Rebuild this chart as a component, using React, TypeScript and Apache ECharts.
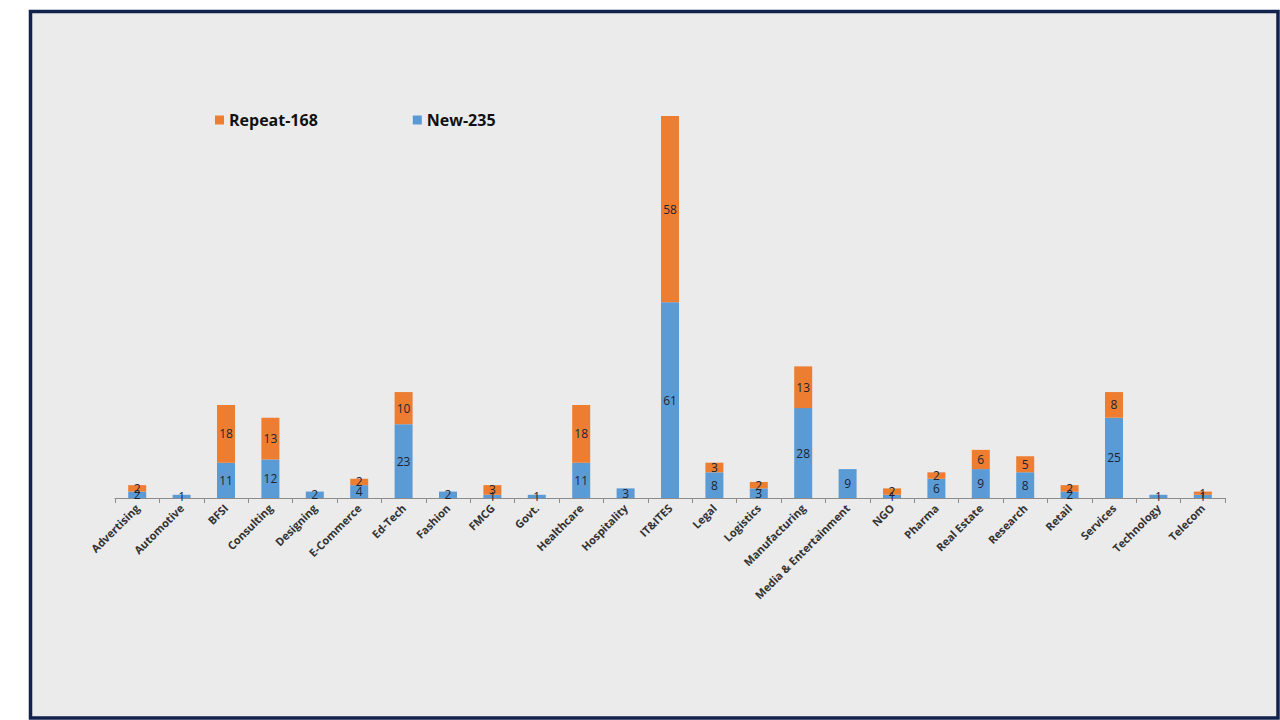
import React, { useEffect, useRef } from "react";
import * as echarts from "echarts";

const categories = [
  "Advertising", "Automotive", "BFSI", "Consulting", "Designing", "E-Commerce",
  "Ed-Tech", "Fashion", "FMCG", "Govt.", "Healthcare", "Hospitality", "IT&ITES",
  "Legal", "Logistics", "Manufacturing", "Media & Entertainment", "NGO", "Pharma",
  "Real Estate", "Research", "Retail", "Services", "Technology", "Telecom",
];
const newValues = [2, 1, 11, 12, 2, 4, 23, 2, 1, 1, 11, 3, 61, 8, 3, 28, 9, 1, 6, 9, 8, 2, 25, 1, 1];
const repeatValues = [2, 0, 18, 13, 0, 2, 10, 0, 3, 0, 18, 0, 58, 3, 2, 13, 0, 2, 2, 6, 5, 2, 8, 0, 1];
const repeatName = "Repeat-168";
const newName = "New-235";

export default function App() {
  const ref = useRef<HTMLDivElement>(null);
  useEffect(() => {
    if (!ref.current) return;
    const chart = echarts.init(ref.current, undefined, { renderer: "svg" });
    const label = {
      show: true,
      position: "inside" as const,
      color: "#1b2433",
      fontSize: 12,
      fontFamily: "Open Sans, sans-serif",
      formatter: (p: any) => (p.value ? String(p.value) : ""),
    };
    chart.setOption({
      animation: false,
      backgroundColor: "#ffffff",
      graphic: [
        {
          type: "rect",
          z: -10,
          shape: { x: 30.5, y: 11.5, width: 1247.5, height: 706.5 },
          style: { fill: "#ebebeb", stroke: "#13214d", lineWidth: 3.5 },
        },
      ],
      legend: {
        data: [repeatName, newName],
        left: 210,
        top: 107,
        itemWidth: 9,
        itemHeight: 9,
        itemGap: 95,
        icon: "rect",
        textStyle: {
          fontSize: 16,
          fontWeight: "bold",
          color: "#111",
          fontFamily: "Open Sans, sans-serif",
        },
      },
      grid: { left: 115, right: 55, top: 116, bottom: 222, containLabel: false },
      xAxis: {
        type: "category",
        data: categories,
        axisLine: { lineStyle: { color: "#8c8c8c", width: 1 } },
        axisTick: { show: true, length: 5, lineStyle: { color: "#8c8c8c" } },
        axisLabel: {
          rotate: 45,
          interval: 0,
          fontSize: 11,
          fontWeight: "bold",
          color: "#333",
          fontFamily: "Open Sans, sans-serif",
          margin: 8,
        },
      },
      yAxis: {
        type: "value",
        min: 0,
        max: 119,
        show: false,
        splitLine: { show: false },
      },
      series: [
        {
          name: newName,
          type: "bar",
          stack: "total",
          data: newValues,
          barWidth: 18,
          itemStyle: { color: "#5b9bd5" },
          label,
        },
        {
          name: repeatName,
          type: "bar",
          stack: "total",
          data: repeatValues,
          barWidth: 18,
          itemStyle: { color: "#ed7d31" },
          label,
        },
      ],
    });
    return () => chart.dispose();
  }, []);
  return (
    <div
      ref={ref}
      style={{ position: "fixed", left: 0, top: 0, width: 1280, height: 720 }}
    />
  );
}
